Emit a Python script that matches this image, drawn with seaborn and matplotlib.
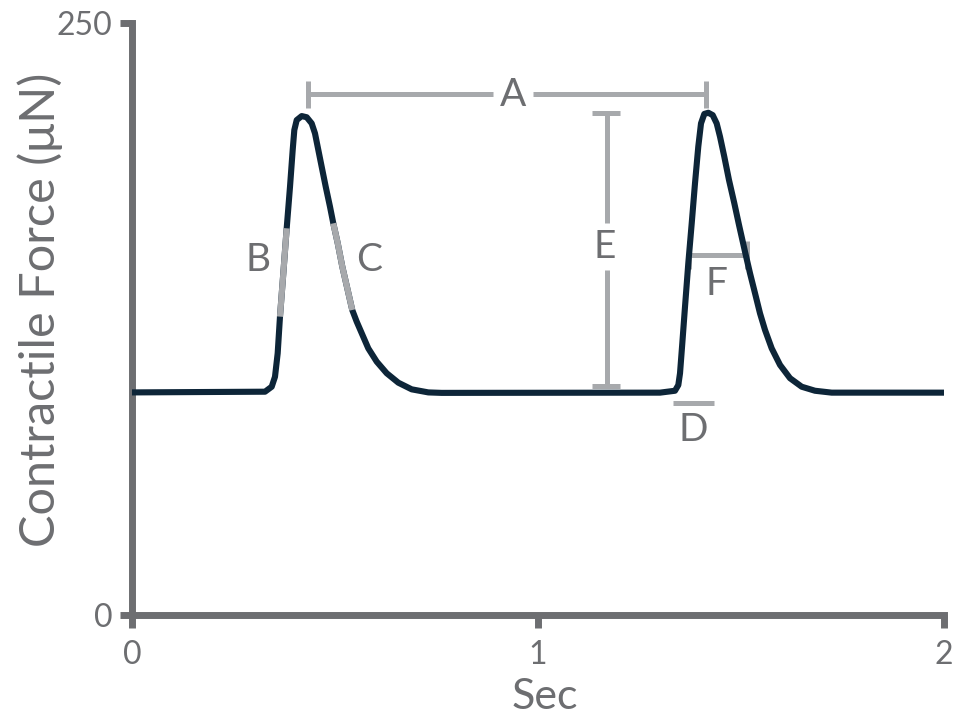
import numpy as np
import pandas as pd
import matplotlib
matplotlib.use("Agg")
import matplotlib.pyplot as plt
import seaborn as sns

# ---- data ----
time_s = [0.0, 0.3276, 0.3441, 0.3522, 0.3588, 0.3645, 0.3727, 0.381, 0.3892, 0.3958,
          0.3998, 0.4057, 0.418, 0.4303, 0.4426, 0.4507, 0.4589, 0.4672, 0.4771, 0.4877,
          0.4958, 0.5067, 0.518, 0.5313, 0.5425, 0.5534, 0.5658, 0.582, 0.6027, 0.6273,
          0.656, 0.6889, 0.7299, 0.7628,
          1.3005, 1.3374, 1.3456, 1.3498, 1.3554, 1.3621, 1.3702, 1.3786, 1.3867, 1.3948,
          1.4015, 1.4096, 1.4195, 1.4303, 1.4401, 1.4483, 1.4589, 1.4704, 1.4835, 1.4951,
          1.5099, 1.5222, 1.5345, 1.5468, 1.5591, 1.5756, 1.5961, 1.6207, 1.6495, 1.6823,
          1.7234, 2.0]
force_uN = [94.0, 94.3, 96.4, 100.6, 110.5, 126.0, 144.3, 163.3, 180.9, 196.4,
            204.8, 209.0, 210.7, 210.2, 207.6, 203.4, 196.4, 189.3, 180.9, 172.4,
            165.4, 157.0, 147.1, 137.2, 128.8, 123.9, 119.0, 112.6, 107.0, 102.1,
            98.1, 95.3, 94.0, 93.8,
            93.9, 94.7, 97.1, 102.1, 114.7, 130.2, 148.5, 165.4, 182.3, 197.8,
            207.6, 211.6, 212.1, 211.1, 207.6, 202.0, 193.5, 183.7, 173.9, 164.7,
            153.4, 144.3, 135.9, 127.4, 120.4, 112.6, 105.6, 100.0, 96.4, 94.7,
            93.9, 93.9]

# highlighted portions of the first twitch (time ranges)
b_range = [0.3645, 0.381]
c_range = [0.4958, 0.5425]

# annotation geometry (data units)
a_span = [0.4335, 1.4138]; a_level = 220.0; a_cap = [214.0, 225.5]; a_gap = [0.889, 0.988]
e_pos = 1.170; e_span = [96.7, 212.0]; e_cap = [1.133, 1.202]; e_gap = [145.7, 165.5]
f_span = [1.3727, 1.514]; f_level = 152.0; f_cap = [146.1, 157.8]
d_span = [1.3317, 1.4343]; d_level = 89.4

label_text = ["A", "B", "C", "D", "E", "F"]
label_x = [0.938, 0.3096, 0.5837, 1.3825, 1.165, 1.440]
label_y = [219.5, 150.0, 150.0, 78.1, 155.4, 139.8]

x_ticks = [0, 1, 2]
y_ticks = [0, 250]

# ---- style ----
sns.set_theme(style="ticks")
plt.rcParams["font.family"] = ["Lato", "DejaVu Sans"]

axis_col = "#6d6e71"
text_col = "#6d6e71"
curve_col = "#0d2538"
annot_col = "#a7a9ac"

fig = plt.figure(figsize=(9.72, 7.25), dpi=100)
ax = fig.add_axes([132 / 972, 1 - 615 / 725, (944 - 132) / 972, (615 - 23) / 725])

df = pd.DataFrame({"t": time_s, "F": force_uN})
sns.lineplot(data=df, x="t", y="F", ax=ax, color=curve_col, linewidth=4.4,
             estimator=None, sort=False, solid_joinstyle="round", solid_capstyle="round", zorder=3)
for rng in (b_range, c_range):
    sub = df[(df["t"] >= rng[0] - 1e-9) & (df["t"] <= rng[1] + 1e-9)]
    sns.lineplot(data=sub, x="t", y="F", ax=ax, color=annot_col, linewidth=4.4,
                 estimator=None, sort=False, solid_capstyle="butt", zorder=4)

lw = 3.6
kw = dict(color=annot_col, linewidth=lw, solid_capstyle="butt", zorder=2)
# A
ax.plot([a_span[0], a_gap[0]], [a_level, a_level], **kw)
ax.plot([a_gap[1], a_span[1]], [a_level, a_level], **kw)
ax.plot([a_span[0], a_span[0]], a_cap, **kw)
ax.plot([a_span[1], a_span[1]], a_cap, **kw)
# E
ax.plot([e_pos, e_pos], [e_span[0], e_gap[0]], **kw)
ax.plot([e_pos, e_pos], [e_gap[1], e_span[1]], **kw)
ax.plot(e_cap, [e_span[0], e_span[0]], **kw)
ax.plot(e_cap, [e_span[1], e_span[1]], **kw)
# F
ax.plot(f_span, [f_level, f_level], **kw)
ax.plot([f_span[0], f_span[0]], f_cap, **kw)
ax.plot([f_span[1], f_span[1]], f_cap, **kw)
# D
ax.plot(d_span, [d_level, d_level], **kw)

for s, x, y in zip(label_text, label_x, label_y):
    ax.text(x, y, s, ha="center", va="center", fontsize=28, color=text_col, zorder=5)

ax.set_xlim(0, 2)
ax.set_ylim(0, 250)
ax.set_xticks(x_ticks)
ax.set_yticks(y_ticks)
ax.set_xticklabels([str(v) for v in x_ticks])
ax.set_yticklabels([str(v) for v in y_ticks])
ax.set_xlabel("Sec", fontsize=31, color=text_col)
ax.set_ylabel("Contractile Force (\u03bcN)", fontsize=35, color=text_col)
ax.xaxis.set_label_coords(0.509, -0.107)
ax.yaxis.set_label_coords(-0.0855, 0.515)

sns.despine(ax=ax)
for sp in ("left", "bottom"):
    ax.spines[sp].set_color(axis_col)
    ax.spines[sp].set_linewidth(5)
    ax.spines[sp].set_capstyle("projecting")
ax.tick_params(axis="both", colors=axis_col, labelcolor=text_col, width=5,
               length=9, labelsize=23)
ax.tick_params(axis="x", pad=9)
ax.tick_params(axis="y", pad=5)
ax.patch.set_alpha(0)

fig.savefig("out.png", dpi=100)
